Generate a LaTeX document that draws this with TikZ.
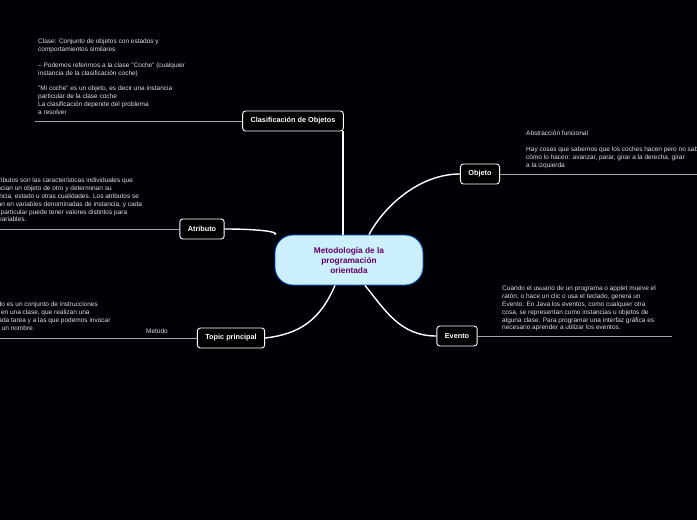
\documentclass[tikz,border=0pt]{standalone}
\usepackage{fontspec}
\setmainfont{Liberation Sans}
\begin{document}
\begin{tikzpicture}[x=1pt,y=-1pt,
  topic/.style={draw=white,fill=black,text=white,line width=0.9pt,rounded corners=3pt,font=\fontsize{7.3}{8}\selectfont\bfseries,minimum height=20pt,inner xsep=8pt},
  note/.style={text=white!88!black,font=\fontsize{6.5}{7.8}\selectfont,align=left,inner sep=0pt},
  conn/.style={white,line width=1.4pt},
  base/.style={gray!70,line width=0.6pt}]
\fill[black!97!blue!90!black] (0,0) rectangle (697,520);
\useasboundingbox (0,0) rectangle (697,520);
\node[draw=blue!60!cyan!80!black,fill=cyan!20!white,line width=0.8pt,rounded corners=18pt,minimum width=148pt,minimum height=50pt,align=center,text=violet!80!black,font=\fontsize{8.3}{10}\selectfont\bfseries] (c) at (349,260) {Metodología de la\\programación\\orientada};
\node[topic] (cl) at (293,121) {Clasificación de Objetos};
\node[topic] (at) at (202,229) {Atributo};
\node[topic] (ob) at (480,174) {Objeto};
\node[topic] (ev) at (457,336) {Evento};
\node[topic] (tp) at (231,338) {Topic principal};
\coordinate (cl0) at (35,121);
\coordinate (at0) at (0,229);
\coordinate (ob0) at (697,174);
\coordinate (ev0) at (672,336);
\coordinate (tp0) at (0,338);
\draw[base] (cl.west) -- (cl0);
\draw[base] (at.west) -- (at0);
\draw[base] (ob.east) -- (ob0);
\draw[base] (ev.east) -- (ev0);
\draw[base] (tp.west) -- (tp0);
\draw[conn] ([xshift=-1pt]cl.south east) -- ([xshift=-1pt]cl.south east |- c.north);
\draw[conn] (at.east) .. controls (260,229) and (280,232) .. (c.north west);
\draw[conn] (ob.west) .. controls (420,174) and (385,205) .. ([xshift=20pt]c.north);
\draw[conn] (ev.west) .. controls (400,336) and (385,310) .. ([xshift=16pt]c.south);
\draw[conn] (tp.east) .. controls (300,334) and (320,320) .. ([xshift=-14pt]c.south);
\node[note,anchor=north west] (n1) at (38,39) {Clase: Conjunto de objetos con estados y\\comportamientos similares\\[7.8pt]-- Podemos referirnos a la clase "Coche" (cualquier\\instancia de la clasificación coche)\\[7.8pt]"Mi coche" es un objeto, es decir una instancia\\particular de la clase coche\\La clasificación depende del problema\\a resolver};
\node[note,anchor=north west] (n2) at (-19,178) {Los atributos son las características individuales que\\diferencian un objeto de otro y determinan su\\apariencia, estado u otras cualidades. Los atributos se\\guardan en variables denominadas de instancia, y cada\\objeto particular puede tener valores distintos para\\estas variables.};
\node[note,anchor=north west] (n3) at (-27,302) {Un método es un conjunto de instrucciones\\definidas en una clase, que realizan una\\determinada tarea y a las que podemos invocar\\mediante un nombre.};
\node[note,anchor=south] (n4) at (157,334) {Metodo};
\node[note,anchor=north west] (n5) at (526,131) {Abstracción funcional\\[7.8pt]Hay cosas que sabemos que los coches hacen pero no sabemos\\cómo lo hacen: avanzar, parar, girar a la derecha, girar\\a la izquierda};
\node[note,anchor=north west] (n6) at (502,286) {Cuando el usuario de un programa o applet mueve el\\ratón, o hace un clic o usa el teclado, genera un\\Evento. En Java los eventos, como cualquier otra\\cosa, se representan como instancias u objetos de\\alguna clase. Para programar una interfaz gráfica es\\necesario aprender a utilizar los eventos.};
\end{tikzpicture}
\end{document}
